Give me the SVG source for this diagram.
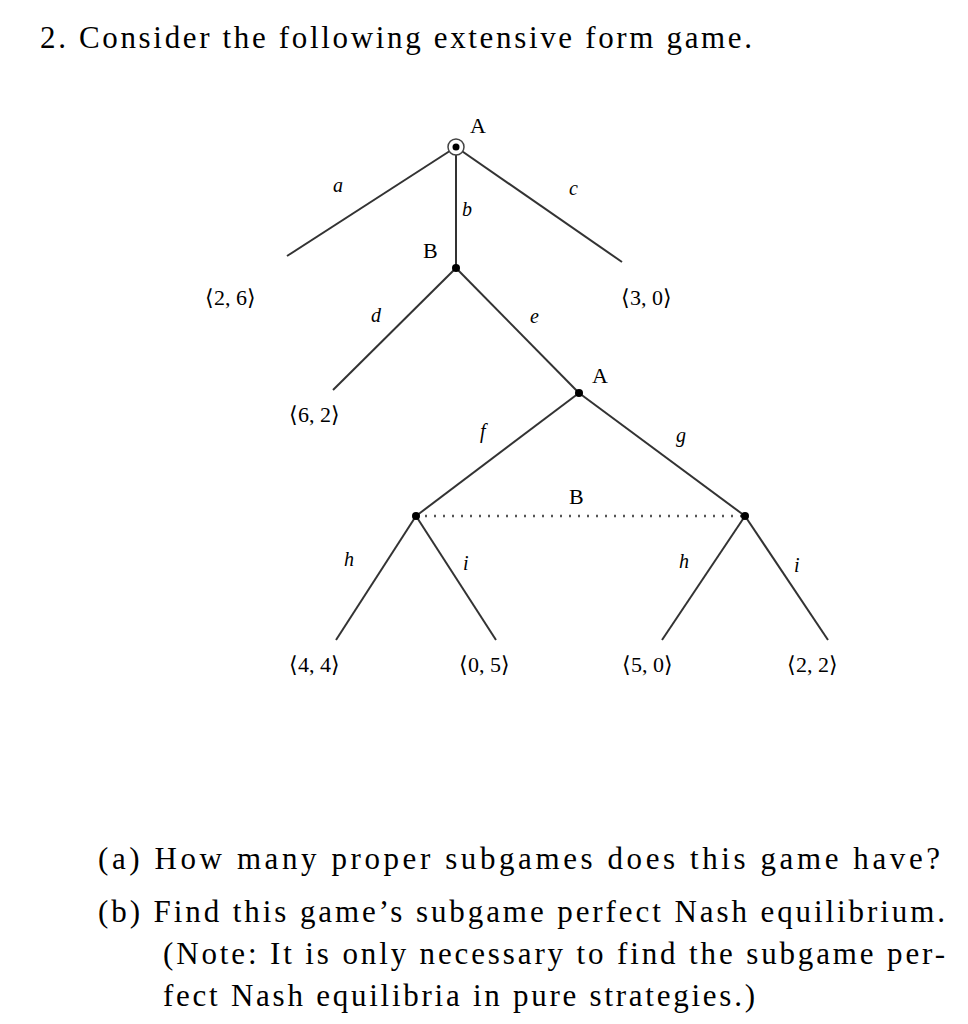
<svg xmlns="http://www.w3.org/2000/svg" width="968" height="1024" viewBox="0 0 968 1024">
<style>
.t{font-family:"Liberation Serif",serif;fill:#000}
.h{font-size:31px}
.l{font-size:22px}
.i{font-size:20px;font-style:italic}
.e{stroke:#333;stroke-width:2;fill:none}
.n{fill:#000}
</style>
<rect width="968" height="1024" fill="#fff"/>
<text class="t h" x="40" y="48" textLength="712" lengthAdjust="spacing">2. Consider the following extensive form game.</text>
<g id="connectors">
<line class="e" x1="456" y1="147" x2="287" y2="256"/>
<line class="e" x1="456" y1="147" x2="456" y2="268"/>
<line class="e" x1="456" y1="147" x2="622" y2="262"/>
<line class="e" x1="456" y1="268" x2="333" y2="390"/>
<line class="e" x1="456" y1="268" x2="579" y2="393"/>
<line class="e" x1="579" y1="393" x2="416" y2="516"/>
<line class="e" x1="579" y1="393" x2="745" y2="516"/>
<line x1="416" y1="516" x2="745" y2="516" stroke="#555" stroke-width="2.5" stroke-dasharray="2,7"/>
<line class="e" x1="416" y1="516" x2="336" y2="640"/>
<line class="e" x1="416" y1="516" x2="496" y2="640"/>
<line class="e" x1="745" y1="516" x2="662" y2="640"/>
<line class="e" x1="745" y1="516" x2="828" y2="640"/>
<text class="t i" x="333" y="192">a</text>
<text class="t i" x="462" y="216">b</text>
<text class="t i" x="569" y="195">c</text>
<text class="t i" x="371" y="322">d</text>
<text class="t i" x="530" y="323">e</text>
<text class="t i" x="480" y="438">f</text>
<text class="t i" x="676" y="442">g</text>
<text class="t i" x="344" y="566">h</text>
<text class="t i" x="463" y="570">i</text>
<text class="t i" x="679" y="568">h</text>
<text class="t i" x="794" y="572">i</text>
</g>
<g id="root"><circle cx="456" cy="147" r="8" fill="#fff" stroke="#444" stroke-width="1.5"/><circle cx="456" cy="147" r="3.5" class="n"/><text class="t l" x="470" y="133">A</text></g>
<g id="nodeB"><circle cx="456" cy="268" r="4" class="n"/><text class="t l" x="423" y="258">B</text></g>
<g id="nodeA2"><circle cx="579" cy="393" r="4" class="n"/><text class="t l" x="592" y="383">A</text></g>
<g id="nodeBL"><circle cx="416" cy="516" r="4" class="n"/></g>
<g id="nodeBR"><circle cx="745" cy="516" r="4" class="n"/></g>
<text class="t l" x="569" y="504">B</text>
<g id="leaf26"><text class="t l" x="205" y="305">⟨2, 6⟩</text></g>
<g id="leaf30"><text class="t l" x="621" y="305">⟨3, 0⟩</text></g>
<g id="leaf62"><text class="t l" x="289" y="422">⟨6, 2⟩</text></g>
<g id="leaf44"><text class="t l" x="289" y="672">⟨4, 4⟩</text></g>
<g id="leaf05"><text class="t l" x="459" y="672">⟨0, 5⟩</text></g>
<g id="leaf50"><text class="t l" x="622" y="672">⟨5, 0⟩</text></g>
<g id="leaf22"><text class="t l" x="787" y="672">⟨2, 2⟩</text></g>
<text class="t h" x="98" y="869" textLength="842" lengthAdjust="spacing">(a) How many proper subgames does this game have?</text>
<text class="t h" x="98" y="922" textLength="847" lengthAdjust="spacing">(b) Find this game’s subgame perfect Nash equilibrium.</text>
<text class="t h" x="163" y="964" textLength="782" lengthAdjust="spacing">(Note: It is only necessary to find the subgame per-</text>
<text class="t h" x="163" y="1006" textLength="592" lengthAdjust="spacing">fect Nash equilibria in pure strategies.)</text>
</svg>
